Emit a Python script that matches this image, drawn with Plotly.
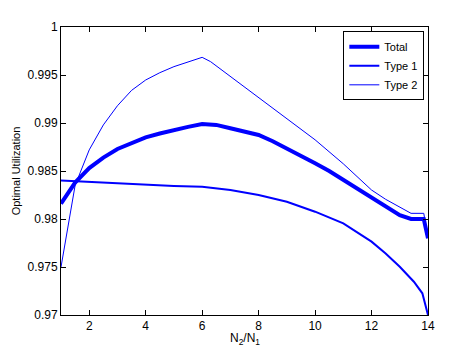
import plotly.graph_objects as go

# Data
x_total = [1, 1.5, 2, 2.5, 3, 3.5, 4, 4.5, 5, 5.5, 6, 6.5, 7, 7.5, 8, 8.5, 9, 9.5, 10, 10.5, 11, 11.5, 12, 12.5, 13, 13.4, 13.85, 14]
y_total = [0.9816, 0.9838, 0.9853, 0.9864, 0.9873, 0.9879, 0.9885, 0.9889, 0.9893, 0.9896, 0.9899, 0.9898, 0.98945, 0.9891, 0.98875, 0.9881, 0.98736, 0.9866, 0.9858, 0.9850, 0.9841, 0.9832, 0.9823, 0.9813, 0.9804, 0.9800, 0.9800, 0.9780]

x_type1 = [1, 2, 3, 4, 5, 6, 7, 8, 9, 10, 11, 12, 12.5, 13, 13.5, 13.8, 14]
y_type1 = [0.9840, 0.98385, 0.9837, 0.98354, 0.98345, 0.98335, 0.98302, 0.9825, 0.9818, 0.98076, 0.97955, 0.97764, 0.9764, 0.97503, 0.97347, 0.97226, 0.9700]

x_type2 = [1, 1.5, 2, 2.5, 3, 3.5, 4, 4.5, 5, 5.5, 6, 6.3, 7, 8, 9, 10, 11, 12, 12.5, 13, 13.4, 13.85, 14]
y_type2 = [0.9750, 0.9835, 0.9872, 0.9898, 0.9918, 0.9934, 0.99448, 0.99524, 0.99587, 0.99639, 0.99684, 0.99639, 0.99485, 0.99265, 0.99045, 0.98825, 0.98575, 0.98302, 0.98205, 0.98128, 0.98059, 0.98059, 0.9780]

x_ticks = [2, 4, 6, 8, 10, 12, 14]
y_ticks = [0.97, 0.975, 0.98, 0.985, 0.99, 0.995, 1]
y_tick_labels = ["0.97", "0.975", "0.98", "0.985", "0.99", "0.995", "1"]

blue = "#0000FF"
fig = go.Figure()
fig.add_trace(go.Scatter(x=x_total, y=y_total, mode="lines", name="Total",
                         line=dict(color=blue, width=4)))
fig.add_trace(go.Scatter(x=x_type1, y=y_type1, mode="lines", name="Type 1",
                         line=dict(color=blue, width=2)))
fig.add_trace(go.Scatter(x=x_type2, y=y_type2, mode="lines", name="Type 2",
                         line=dict(color=blue, width=1)))

axis_common = dict(showgrid=False, zeroline=False, showline=True, linecolor="black",
                   linewidth=1, mirror="ticks", ticks="inside", ticklen=5,
                   tickcolor="black", automargin=False,
                   tickfont=dict(family="Liberation Sans, Arial", size=12, color="black"))

fig.update_layout(
    width=474, height=355,
    margin=dict(l=61, r=46, t=27, b=40),
    paper_bgcolor="white", plot_bgcolor="white",
    font=dict(family="Liberation Sans, Arial", size=12, color="black"),
    xaxis=dict(range=[1, 14], tickvals=x_ticks, **axis_common),
    yaxis=dict(range=[0.97, 1], tickvals=y_ticks, ticktext=y_tick_labels,
               title=dict(text="Optimal Utilization", standoff=4, font=dict(size=11)),
               **axis_common),
    legend=dict(x=0.99, y=0.985, xanchor="right", yanchor="top",
                bordercolor="black", borderwidth=1, bgcolor="white",
                font=dict(size=11), tracegroupgap=0, itemwidth=30),
    showlegend=True,
    annotations=[dict(text="N<sub>2</sub>/N<sub>1</sub>", xref="paper", yref="paper",
                      x=0.5, y=-0.05, xanchor="center", yanchor="top",
                      showarrow=False, font=dict(size=12))],
)

fig.write_html("out.html", config={"displayModeBar": False},
               post_script="document.body.style.margin='0';document.body.style.padding='0';")
